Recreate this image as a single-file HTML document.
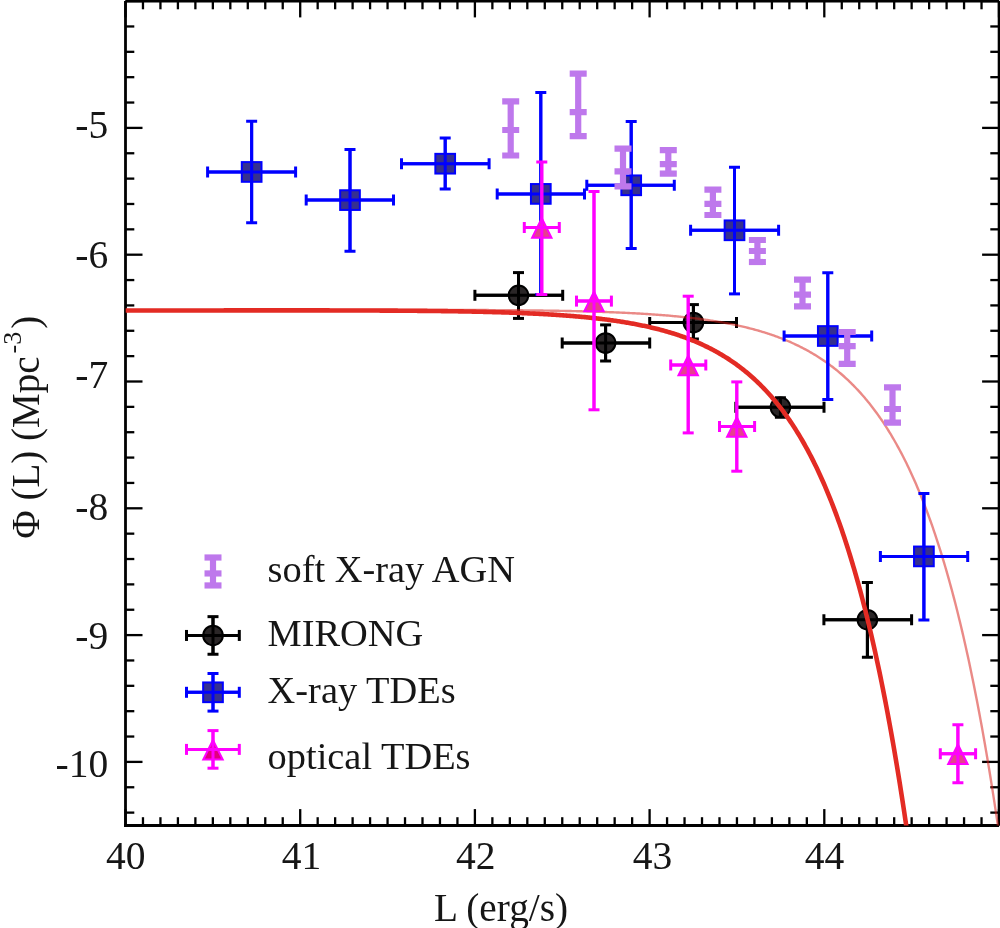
<!DOCTYPE html><html><head><meta charset="utf-8"><style>html,body{margin:0;padding:0;background:#fff;width:1000px;height:928px;overflow:hidden}svg{display:block}body{-webkit-font-smoothing:antialiased}svg{will-change:transform}text{font-family:"Liberation Serif",serif}</style></head><body>
<svg width="1000" height="928" viewBox="0 0 1000 928">
<rect width="1000" height="928" fill="#fff"/>
<defs><clipPath id="pc"><rect x="125.5" y="1.1" width="874" height="824.4"/></clipPath></defs>
<g stroke="#000" stroke-width="2.3" fill="none"><line x1="125.50" y1="825.5" x2="125.50" y2="809.1"/><line x1="125.50" y1="1.0" x2="125.50" y2="17.4"/><line x1="142.97" y1="825.5" x2="142.97" y2="817.2"/><line x1="142.97" y1="1.0" x2="142.97" y2="9.3"/><line x1="160.44" y1="825.5" x2="160.44" y2="817.2"/><line x1="160.44" y1="1.0" x2="160.44" y2="9.3"/><line x1="177.91" y1="825.5" x2="177.91" y2="817.2"/><line x1="177.91" y1="1.0" x2="177.91" y2="9.3"/><line x1="195.38" y1="825.5" x2="195.38" y2="817.2"/><line x1="195.38" y1="1.0" x2="195.38" y2="9.3"/><line x1="212.85" y1="825.5" x2="212.85" y2="817.2"/><line x1="212.85" y1="1.0" x2="212.85" y2="9.3"/><line x1="230.32" y1="825.5" x2="230.32" y2="817.2"/><line x1="230.32" y1="1.0" x2="230.32" y2="9.3"/><line x1="247.79" y1="825.5" x2="247.79" y2="817.2"/><line x1="247.79" y1="1.0" x2="247.79" y2="9.3"/><line x1="265.26" y1="825.5" x2="265.26" y2="817.2"/><line x1="265.26" y1="1.0" x2="265.26" y2="9.3"/><line x1="282.73" y1="825.5" x2="282.73" y2="817.2"/><line x1="282.73" y1="1.0" x2="282.73" y2="9.3"/><line x1="300.20" y1="825.5" x2="300.20" y2="809.1"/><line x1="300.20" y1="1.0" x2="300.20" y2="17.4"/><line x1="317.67" y1="825.5" x2="317.67" y2="817.2"/><line x1="317.67" y1="1.0" x2="317.67" y2="9.3"/><line x1="335.14" y1="825.5" x2="335.14" y2="817.2"/><line x1="335.14" y1="1.0" x2="335.14" y2="9.3"/><line x1="352.61" y1="825.5" x2="352.61" y2="817.2"/><line x1="352.61" y1="1.0" x2="352.61" y2="9.3"/><line x1="370.08" y1="825.5" x2="370.08" y2="817.2"/><line x1="370.08" y1="1.0" x2="370.08" y2="9.3"/><line x1="387.55" y1="825.5" x2="387.55" y2="817.2"/><line x1="387.55" y1="1.0" x2="387.55" y2="9.3"/><line x1="405.02" y1="825.5" x2="405.02" y2="817.2"/><line x1="405.02" y1="1.0" x2="405.02" y2="9.3"/><line x1="422.49" y1="825.5" x2="422.49" y2="817.2"/><line x1="422.49" y1="1.0" x2="422.49" y2="9.3"/><line x1="439.96" y1="825.5" x2="439.96" y2="817.2"/><line x1="439.96" y1="1.0" x2="439.96" y2="9.3"/><line x1="457.43" y1="825.5" x2="457.43" y2="817.2"/><line x1="457.43" y1="1.0" x2="457.43" y2="9.3"/><line x1="474.90" y1="825.5" x2="474.90" y2="809.1"/><line x1="474.90" y1="1.0" x2="474.90" y2="17.4"/><line x1="492.37" y1="825.5" x2="492.37" y2="817.2"/><line x1="492.37" y1="1.0" x2="492.37" y2="9.3"/><line x1="509.84" y1="825.5" x2="509.84" y2="817.2"/><line x1="509.84" y1="1.0" x2="509.84" y2="9.3"/><line x1="527.31" y1="825.5" x2="527.31" y2="817.2"/><line x1="527.31" y1="1.0" x2="527.31" y2="9.3"/><line x1="544.78" y1="825.5" x2="544.78" y2="817.2"/><line x1="544.78" y1="1.0" x2="544.78" y2="9.3"/><line x1="562.25" y1="825.5" x2="562.25" y2="817.2"/><line x1="562.25" y1="1.0" x2="562.25" y2="9.3"/><line x1="579.72" y1="825.5" x2="579.72" y2="817.2"/><line x1="579.72" y1="1.0" x2="579.72" y2="9.3"/><line x1="597.19" y1="825.5" x2="597.19" y2="817.2"/><line x1="597.19" y1="1.0" x2="597.19" y2="9.3"/><line x1="614.66" y1="825.5" x2="614.66" y2="817.2"/><line x1="614.66" y1="1.0" x2="614.66" y2="9.3"/><line x1="632.13" y1="825.5" x2="632.13" y2="817.2"/><line x1="632.13" y1="1.0" x2="632.13" y2="9.3"/><line x1="649.60" y1="825.5" x2="649.60" y2="809.1"/><line x1="649.60" y1="1.0" x2="649.60" y2="17.4"/><line x1="667.07" y1="825.5" x2="667.07" y2="817.2"/><line x1="667.07" y1="1.0" x2="667.07" y2="9.3"/><line x1="684.54" y1="825.5" x2="684.54" y2="817.2"/><line x1="684.54" y1="1.0" x2="684.54" y2="9.3"/><line x1="702.01" y1="825.5" x2="702.01" y2="817.2"/><line x1="702.01" y1="1.0" x2="702.01" y2="9.3"/><line x1="719.48" y1="825.5" x2="719.48" y2="817.2"/><line x1="719.48" y1="1.0" x2="719.48" y2="9.3"/><line x1="736.95" y1="825.5" x2="736.95" y2="817.2"/><line x1="736.95" y1="1.0" x2="736.95" y2="9.3"/><line x1="754.42" y1="825.5" x2="754.42" y2="817.2"/><line x1="754.42" y1="1.0" x2="754.42" y2="9.3"/><line x1="771.89" y1="825.5" x2="771.89" y2="817.2"/><line x1="771.89" y1="1.0" x2="771.89" y2="9.3"/><line x1="789.36" y1="825.5" x2="789.36" y2="817.2"/><line x1="789.36" y1="1.0" x2="789.36" y2="9.3"/><line x1="806.83" y1="825.5" x2="806.83" y2="817.2"/><line x1="806.83" y1="1.0" x2="806.83" y2="9.3"/><line x1="824.30" y1="825.5" x2="824.30" y2="809.1"/><line x1="824.30" y1="1.0" x2="824.30" y2="17.4"/><line x1="841.77" y1="825.5" x2="841.77" y2="817.2"/><line x1="841.77" y1="1.0" x2="841.77" y2="9.3"/><line x1="859.24" y1="825.5" x2="859.24" y2="817.2"/><line x1="859.24" y1="1.0" x2="859.24" y2="9.3"/><line x1="876.71" y1="825.5" x2="876.71" y2="817.2"/><line x1="876.71" y1="1.0" x2="876.71" y2="9.3"/><line x1="894.18" y1="825.5" x2="894.18" y2="817.2"/><line x1="894.18" y1="1.0" x2="894.18" y2="9.3"/><line x1="911.65" y1="825.5" x2="911.65" y2="817.2"/><line x1="911.65" y1="1.0" x2="911.65" y2="9.3"/><line x1="929.12" y1="825.5" x2="929.12" y2="817.2"/><line x1="929.12" y1="1.0" x2="929.12" y2="9.3"/><line x1="946.59" y1="825.5" x2="946.59" y2="817.2"/><line x1="946.59" y1="1.0" x2="946.59" y2="9.3"/><line x1="964.06" y1="825.5" x2="964.06" y2="817.2"/><line x1="964.06" y1="1.0" x2="964.06" y2="9.3"/><line x1="981.53" y1="825.5" x2="981.53" y2="817.2"/><line x1="981.53" y1="1.0" x2="981.53" y2="9.3"/><line x1="999.00" y1="825.5" x2="999.00" y2="809.1"/><line x1="999.00" y1="1.0" x2="999.00" y2="17.4"/><line x1="125.5" y1="1.10" x2="142.5" y2="1.10"/><line x1="999.1" y1="1.10" x2="982.1" y2="1.10"/><line x1="125.5" y1="26.46" x2="134.3" y2="26.46"/><line x1="999.1" y1="26.46" x2="990.3000000000001" y2="26.46"/><line x1="125.5" y1="51.82" x2="134.3" y2="51.82"/><line x1="999.1" y1="51.82" x2="990.3000000000001" y2="51.82"/><line x1="125.5" y1="77.18" x2="134.3" y2="77.18"/><line x1="999.1" y1="77.18" x2="990.3000000000001" y2="77.18"/><line x1="125.5" y1="102.54" x2="134.3" y2="102.54"/><line x1="999.1" y1="102.54" x2="990.3000000000001" y2="102.54"/><line x1="125.5" y1="127.90" x2="142.5" y2="127.90"/><line x1="999.1" y1="127.90" x2="982.1" y2="127.90"/><line x1="125.5" y1="153.26" x2="134.3" y2="153.26"/><line x1="999.1" y1="153.26" x2="990.3000000000001" y2="153.26"/><line x1="125.5" y1="178.62" x2="134.3" y2="178.62"/><line x1="999.1" y1="178.62" x2="990.3000000000001" y2="178.62"/><line x1="125.5" y1="203.98" x2="134.3" y2="203.98"/><line x1="999.1" y1="203.98" x2="990.3000000000001" y2="203.98"/><line x1="125.5" y1="229.34" x2="134.3" y2="229.34"/><line x1="999.1" y1="229.34" x2="990.3000000000001" y2="229.34"/><line x1="125.5" y1="254.70" x2="142.5" y2="254.70"/><line x1="999.1" y1="254.70" x2="982.1" y2="254.70"/><line x1="125.5" y1="280.06" x2="134.3" y2="280.06"/><line x1="999.1" y1="280.06" x2="990.3000000000001" y2="280.06"/><line x1="125.5" y1="305.42" x2="134.3" y2="305.42"/><line x1="999.1" y1="305.42" x2="990.3000000000001" y2="305.42"/><line x1="125.5" y1="330.78" x2="134.3" y2="330.78"/><line x1="999.1" y1="330.78" x2="990.3000000000001" y2="330.78"/><line x1="125.5" y1="356.14" x2="134.3" y2="356.14"/><line x1="999.1" y1="356.14" x2="990.3000000000001" y2="356.14"/><line x1="125.5" y1="381.50" x2="142.5" y2="381.50"/><line x1="999.1" y1="381.50" x2="982.1" y2="381.50"/><line x1="125.5" y1="406.86" x2="134.3" y2="406.86"/><line x1="999.1" y1="406.86" x2="990.3000000000001" y2="406.86"/><line x1="125.5" y1="432.22" x2="134.3" y2="432.22"/><line x1="999.1" y1="432.22" x2="990.3000000000001" y2="432.22"/><line x1="125.5" y1="457.58" x2="134.3" y2="457.58"/><line x1="999.1" y1="457.58" x2="990.3000000000001" y2="457.58"/><line x1="125.5" y1="482.94" x2="134.3" y2="482.94"/><line x1="999.1" y1="482.94" x2="990.3000000000001" y2="482.94"/><line x1="125.5" y1="508.30" x2="142.5" y2="508.30"/><line x1="999.1" y1="508.30" x2="982.1" y2="508.30"/><line x1="125.5" y1="533.66" x2="134.3" y2="533.66"/><line x1="999.1" y1="533.66" x2="990.3000000000001" y2="533.66"/><line x1="125.5" y1="559.02" x2="134.3" y2="559.02"/><line x1="999.1" y1="559.02" x2="990.3000000000001" y2="559.02"/><line x1="125.5" y1="584.38" x2="134.3" y2="584.38"/><line x1="999.1" y1="584.38" x2="990.3000000000001" y2="584.38"/><line x1="125.5" y1="609.74" x2="134.3" y2="609.74"/><line x1="999.1" y1="609.74" x2="990.3000000000001" y2="609.74"/><line x1="125.5" y1="635.10" x2="142.5" y2="635.10"/><line x1="999.1" y1="635.10" x2="982.1" y2="635.10"/><line x1="125.5" y1="660.46" x2="134.3" y2="660.46"/><line x1="999.1" y1="660.46" x2="990.3000000000001" y2="660.46"/><line x1="125.5" y1="685.82" x2="134.3" y2="685.82"/><line x1="999.1" y1="685.82" x2="990.3000000000001" y2="685.82"/><line x1="125.5" y1="711.18" x2="134.3" y2="711.18"/><line x1="999.1" y1="711.18" x2="990.3000000000001" y2="711.18"/><line x1="125.5" y1="736.54" x2="134.3" y2="736.54"/><line x1="999.1" y1="736.54" x2="990.3000000000001" y2="736.54"/><line x1="125.5" y1="761.90" x2="142.5" y2="761.90"/><line x1="999.1" y1="761.90" x2="982.1" y2="761.90"/><line x1="125.5" y1="787.26" x2="134.3" y2="787.26"/><line x1="999.1" y1="787.26" x2="990.3000000000001" y2="787.26"/><line x1="125.5" y1="812.62" x2="134.3" y2="812.62"/><line x1="999.1" y1="812.62" x2="990.3000000000001" y2="812.62"/></g>
<g stroke="#000" stroke-width="2.8"><line x1="125.5" y1="1.0" x2="125.5" y2="826.9"/><line x1="124.1" y1="825.5" x2="999.1" y2="825.5"/><line x1="125.5" y1="1.0" x2="999.1" y2="1.0"/><line x1="999.1" y1="1.0" x2="999.1" y2="825.5"/></g>
<g clip-path="url(#pc)">
<g stroke="#000000" stroke-width="3.0" fill="none"><line x1="474.9" y1="295.3" x2="562.7" y2="295.3"/><line x1="474.9" y1="289.8" x2="474.9" y2="300.8"/><line x1="562.7" y1="289.8" x2="562.7" y2="300.8"/><line x1="518.5" y1="272.6" x2="518.5" y2="318.4"/><line x1="513.0" y1="272.6" x2="524.0" y2="272.6"/><line x1="513.0" y1="318.4" x2="524.0" y2="318.4"/><line x1="562.2" y1="343.0" x2="649.7" y2="343.0"/><line x1="562.2" y1="337.5" x2="562.2" y2="348.5"/><line x1="649.7" y1="337.5" x2="649.7" y2="348.5"/><line x1="605.6" y1="324.9" x2="605.6" y2="361.0"/><line x1="600.1" y1="324.9" x2="611.1" y2="324.9"/><line x1="600.1" y1="361.0" x2="611.1" y2="361.0"/><line x1="649.7" y1="322.5" x2="736.5" y2="322.5"/><line x1="649.7" y1="317.0" x2="649.7" y2="328.0"/><line x1="736.5" y1="317.0" x2="736.5" y2="328.0"/><line x1="693.4" y1="304.6" x2="693.4" y2="339.0"/><line x1="687.9" y1="304.6" x2="698.9" y2="304.6"/><line x1="687.9" y1="339.0" x2="698.9" y2="339.0"/><line x1="735.8" y1="407.3" x2="824.0" y2="407.3"/><line x1="735.8" y1="401.8" x2="735.8" y2="412.8"/><line x1="824.0" y1="401.8" x2="824.0" y2="412.8"/><line x1="780.4" y1="397.8" x2="780.4" y2="417.2"/><line x1="774.9" y1="397.8" x2="785.9" y2="397.8"/><line x1="774.9" y1="417.2" x2="785.9" y2="417.2"/><line x1="823.9" y1="619.7" x2="911.6" y2="619.7"/><line x1="823.9" y1="614.2" x2="823.9" y2="625.2"/><line x1="911.6" y1="614.2" x2="911.6" y2="625.2"/><line x1="867.4" y1="582.4" x2="867.4" y2="657.2"/><line x1="861.9" y1="582.4" x2="872.9" y2="582.4"/><line x1="861.9" y1="657.2" x2="872.9" y2="657.2"/></g>
<circle cx="518.5" cy="295.3" r="9.8" fill="#2A2627" stroke="#000000" stroke-width="2"/><circle cx="605.6" cy="343.0" r="9.8" fill="#2A2627" stroke="#000000" stroke-width="2"/><circle cx="693.4" cy="322.5" r="9.8" fill="#2A2627" stroke="#000000" stroke-width="2"/><circle cx="780.4" cy="407.3" r="9.8" fill="#2A2627" stroke="#000000" stroke-width="2"/><circle cx="867.4" cy="619.7" r="9.8" fill="#2A2627" stroke="#000000" stroke-width="2"/>
<g stroke="#000000" stroke-width="3.0" fill="none"><line x1="474.9" y1="295.3" x2="562.7" y2="295.3"/><line x1="518.5" y1="272.6" x2="518.5" y2="318.4"/><line x1="562.2" y1="343.0" x2="649.7" y2="343.0"/><line x1="605.6" y1="324.9" x2="605.6" y2="361.0"/><line x1="649.7" y1="322.5" x2="736.5" y2="322.5"/><line x1="693.4" y1="304.6" x2="693.4" y2="339.0"/><line x1="735.8" y1="407.3" x2="824.0" y2="407.3"/><line x1="780.4" y1="397.8" x2="780.4" y2="417.2"/><line x1="823.9" y1="619.7" x2="911.6" y2="619.7"/><line x1="867.4" y1="582.4" x2="867.4" y2="657.2"/></g>
<polyline points="125.50,310.57 126.64,310.56 127.77,310.56 128.91,310.56 130.05,310.55 131.18,310.55 132.32,310.55 133.46,310.54 134.60,310.54 135.73,310.54 136.87,310.53 138.01,310.53 139.14,310.53 140.28,310.52 141.42,310.52 142.55,310.52 143.69,310.51 144.83,310.51 145.97,310.51 147.10,310.50 148.24,310.50 149.38,310.50 150.51,310.49 151.65,310.49 152.79,310.49 153.92,310.48 155.06,310.48 156.20,310.48 157.34,310.47 158.47,310.47 159.61,310.47 160.75,310.46 161.88,310.46 163.02,310.46 164.16,310.45 165.29,310.45 166.43,310.45 167.57,310.44 168.70,310.44 169.84,310.44 170.98,310.43 172.12,310.43 173.25,310.43 174.39,310.42 175.53,310.42 176.66,310.42 177.80,310.41 178.94,310.41 180.07,310.41 181.21,310.40 182.35,310.40 183.49,310.40 184.62,310.39 185.76,310.39 186.90,310.39 188.03,310.38 189.17,310.38 190.31,310.38 191.44,310.37 192.58,310.37 193.72,310.37 194.86,310.36 195.99,310.36 197.13,310.36 198.27,310.35 199.40,310.35 200.54,310.35 201.68,310.34 202.81,310.34 203.95,310.34 205.09,310.33 206.22,310.33 207.36,310.33 208.50,310.32 209.64,310.32 210.77,310.32 211.91,310.31 213.05,310.31 214.18,310.31 215.32,310.30 216.46,310.30 217.59,310.30 218.73,310.29 219.87,310.29 221.01,310.29 222.14,310.28 223.28,310.28 224.42,310.28 225.55,310.27 226.69,310.27 227.83,310.27 228.96,310.26 230.10,310.26 231.24,310.26 232.38,310.26 233.51,310.25 234.65,310.25 235.79,310.25 236.92,310.24 238.06,310.24 239.20,310.24 240.33,310.23 241.47,310.23 242.61,310.23 243.75,310.22 244.88,310.22 246.02,310.22 247.16,310.21 248.29,310.21 249.43,310.21 250.57,310.21 251.70,310.20 252.84,310.20 253.98,310.20 255.11,310.19 256.25,310.19 257.39,310.19 258.53,310.18 259.66,310.18 260.80,310.18 261.94,310.17 263.07,310.17 264.21,310.17 265.35,310.17 266.48,310.16 267.62,310.16 268.76,310.16 269.90,310.15 271.03,310.15 272.17,310.15 273.31,310.14 274.44,310.14 275.58,310.14 276.72,310.14 277.85,310.13 278.99,310.13 280.13,310.13 281.27,310.12 282.40,310.12 283.54,310.12 284.68,310.12 285.81,310.11 286.95,310.11 288.09,310.11 289.22,310.10 290.36,310.10 291.50,310.10 292.63,310.10 293.77,310.09 294.91,310.09 296.05,310.09 297.18,310.08 298.32,310.08 299.46,310.08 300.59,310.08 301.73,310.07 302.87,310.07 304.00,310.07 305.14,310.07 306.28,310.06 307.42,310.06 308.55,310.06 309.69,310.06 310.83,310.05 311.96,310.05 313.10,310.05 314.24,310.04 315.37,310.04 316.51,310.04 317.65,310.04 318.79,310.03 319.92,310.03 321.06,310.03 322.20,310.03 323.33,310.02 324.47,310.02 325.61,310.02 326.74,310.02 327.88,310.02 329.02,310.01 330.15,310.01 331.29,310.01 332.43,310.01 333.57,310.00 334.70,310.00 335.84,310.00 336.98,310.00 338.11,309.99 339.25,309.99 340.39,309.99 341.52,309.99 342.66,309.99 343.80,309.98 344.94,309.98 346.07,309.98 347.21,309.98 348.35,309.98 349.48,309.97 350.62,309.97 351.76,309.97 352.89,309.97 354.03,309.97 355.17,309.96 356.31,309.96 357.44,309.96 358.58,309.96 359.72,309.96 360.85,309.95 361.99,309.95 363.13,309.95 364.26,309.95 365.40,309.95 366.54,309.95 367.67,309.94 368.81,309.94 369.95,309.94 371.09,309.94 372.22,309.94 373.36,309.94 374.50,309.94 375.63,309.93 376.77,309.93 377.91,309.93 379.04,309.93 380.18,309.93 381.32,309.93 382.46,309.93 383.59,309.93 384.73,309.92 385.87,309.92 387.00,309.92 388.14,309.92 389.28,309.92 390.41,309.92 391.55,309.92 392.69,309.92 393.83,309.92 394.96,309.92 396.10,309.92 397.24,309.91 398.37,309.91 399.51,309.91 400.65,309.91 401.78,309.91 402.92,309.91 404.06,309.91 405.19,309.91 406.33,309.91 407.47,309.91 408.61,309.91 409.74,309.91 410.88,309.91 412.02,309.91 413.15,309.91 414.29,309.91 415.43,309.91 416.56,309.91 417.70,309.91 418.84,309.91 419.98,309.91 421.11,309.91 422.25,309.91 423.39,309.91 424.52,309.91 425.66,309.91 426.80,309.91 427.93,309.91 429.07,309.92 430.21,309.92 431.35,309.92 432.48,309.92 433.62,309.92 434.76,309.92 435.89,309.92 437.03,309.92 438.17,309.92 439.30,309.93 440.44,309.93 441.58,309.93 442.71,309.93 443.85,309.93 444.99,309.93 446.13,309.93 447.26,309.94 448.40,309.94 449.54,309.94 450.67,309.94 451.81,309.95 452.95,309.95 454.08,309.95 455.22,309.95 456.36,309.96 457.50,309.96 458.63,309.96 459.77,309.96 460.91,309.97 462.04,309.97 463.18,309.97 464.32,309.98 465.45,309.98 466.59,309.98 467.73,309.99 468.87,309.99 470.00,309.99 471.14,310.00 472.28,310.00 473.41,310.01 474.55,310.01 475.69,310.02 476.82,310.02 477.96,310.02 479.10,310.03 480.24,310.03 481.37,310.04 482.51,310.04 483.65,310.05 484.78,310.05 485.92,310.06 487.06,310.07 488.19,310.07 489.33,310.08 490.47,310.08 491.60,310.09 492.74,310.10 493.88,310.10 495.02,310.11 496.15,310.12 497.29,310.12 498.43,310.13 499.56,310.14 500.70,310.15 501.84,310.15 502.97,310.16 504.11,310.17 505.25,310.18 506.39,310.19 507.52,310.19 508.66,310.20 509.80,310.21 510.93,310.22 512.07,310.23 513.21,310.24 514.34,310.25 515.48,310.26 516.62,310.27 517.76,310.28 518.89,310.29 520.03,310.30 521.17,310.31 522.30,310.32 523.44,310.33 524.58,310.34 525.71,310.36 526.85,310.37 527.99,310.38 529.12,310.39 530.26,310.41 531.40,310.42 532.54,310.43 533.67,310.45 534.81,310.46 535.95,310.47 537.08,310.49 538.22,310.50 539.36,310.52 540.49,310.53 541.63,310.55 542.77,310.56 543.91,310.58 545.04,310.59 546.18,310.61 547.32,310.63 548.45,310.65 549.59,310.66 550.73,310.68 551.86,310.70 553.00,310.72 554.14,310.74 555.28,310.75 556.41,310.77 557.55,310.79 558.69,310.81 559.82,310.83 560.96,310.86 562.10,310.88 563.23,310.90 564.37,310.92 565.51,310.94 566.64,310.96 567.78,310.99 568.92,311.01 570.06,311.04 571.19,311.06 572.33,311.08 573.47,311.11 574.60,311.13 575.74,311.16 576.88,311.19 578.01,311.21 579.15,311.24 580.29,311.27 581.43,311.30 582.56,311.33 583.70,311.36 584.84,311.39 585.97,311.42 587.11,311.45 588.25,311.48 589.38,311.51 590.52,311.54 591.66,311.58 592.80,311.61 593.93,311.64 595.07,311.68 596.21,311.71 597.34,311.75 598.48,311.78 599.62,311.82 600.75,311.86 601.89,311.90 603.03,311.94 604.16,311.98 605.30,312.02 606.44,312.06 607.58,312.10 608.71,312.14 609.85,312.18 610.99,312.23 612.12,312.27 613.26,312.31 614.40,312.36 615.53,312.41 616.67,312.45 617.81,312.50 618.95,312.55 620.08,312.60 621.22,312.65 622.36,312.70 623.49,312.75 624.63,312.81 625.77,312.86 626.90,312.91 628.04,312.97 629.18,313.03 630.32,313.08 631.45,313.14 632.59,313.20 633.73,313.26 634.86,313.32 636.00,313.38 637.14,313.44 638.27,313.51 639.41,313.57 640.55,313.64 641.68,313.71 642.82,313.77 643.96,313.84 645.10,313.91 646.23,313.98 647.37,314.06 648.51,314.13 649.64,314.21 650.78,314.28 651.92,314.36 653.05,314.44 654.19,314.52 655.33,314.60 656.47,314.68 657.60,314.76 658.74,314.85 659.88,314.93 661.01,315.02 662.15,315.11 663.29,315.20 664.42,315.29 665.56,315.38 666.70,315.48 667.84,315.57 668.97,315.67 670.11,315.77 671.25,315.87 672.38,315.97 673.52,316.08 674.66,316.18 675.79,316.29 676.93,316.40 678.07,316.51 679.20,316.62 680.34,316.73 681.48,316.85 682.62,316.96 683.75,317.08 684.89,317.20 686.03,317.33 687.16,317.45 688.30,317.58 689.44,317.71 690.57,317.84 691.71,317.97 692.85,318.11 693.99,318.24 695.12,318.38 696.26,318.52 697.40,318.67 698.53,318.81 699.67,318.96 700.81,319.11 701.94,319.26 703.08,319.42 704.22,319.57 705.36,319.73 706.49,319.89 707.63,320.06 708.77,320.22 709.90,320.39 711.04,320.57 712.18,320.74 713.31,320.92 714.45,321.10 715.59,321.28 716.73,321.47 717.86,321.66 719.00,321.85 720.14,322.04 721.27,322.24 722.41,322.44 723.55,322.64 724.68,322.85 725.82,323.06 726.96,323.27 728.09,323.49 729.23,323.71 730.37,323.93 731.51,324.16 732.64,324.39 733.78,324.62 734.92,324.86 736.05,325.10 737.19,325.34 738.33,325.59 739.46,325.84 740.60,326.10 741.74,326.36 742.88,326.62 744.01,326.89 745.15,327.16 746.29,327.44 747.42,327.72 748.56,328.00 749.70,328.29 750.83,328.59 751.97,328.88 753.11,329.19 754.25,329.49 755.38,329.80 756.52,330.12 757.66,330.44 758.79,330.77 759.93,331.10 761.07,331.43 762.20,331.78 763.34,332.12 764.48,332.47 765.61,332.83 766.75,333.19 767.89,333.56 769.03,333.94 770.16,334.31 771.30,334.70 772.44,335.09 773.57,335.49 774.71,335.89 775.85,336.30 776.98,336.71 778.12,337.14 779.26,337.56 780.40,338.00 781.53,338.44 782.67,338.89 783.81,339.34 784.94,339.80 786.08,340.27 787.22,340.75 788.35,341.23 789.49,341.72 790.63,342.22 791.77,342.73 792.90,343.24 794.04,343.76 795.18,344.29 796.31,344.83 797.45,345.37 798.59,345.92 799.72,346.49 800.86,347.06 802.00,347.63 803.13,348.22 804.27,348.82 805.41,349.42 806.55,350.04 807.68,350.66 808.82,351.30 809.96,351.94 811.09,352.59 812.23,353.26 813.37,353.93 814.50,354.61 815.64,355.31 816.78,356.01 817.92,356.72 819.05,357.45 820.19,358.19 821.33,358.94 822.46,359.69 823.60,360.47 824.74,361.25 825.87,362.04 827.01,362.85 828.15,363.67 829.29,364.50 830.42,365.34 831.56,366.20 832.70,367.07 833.83,367.95 834.97,368.85 836.11,369.75 837.24,370.68 838.38,371.62 839.52,372.57 840.65,373.53 841.79,374.51 842.93,375.51 844.07,376.52 845.20,377.54 846.34,378.59 847.48,379.64 848.61,380.72 849.75,381.81 850.89,382.91 852.02,384.03 853.16,385.17 854.30,386.33 855.44,387.50 856.57,388.70 857.71,389.91 858.85,391.14 859.98,392.38 861.12,393.65 862.26,394.93 863.39,396.24 864.53,397.56 865.67,398.91 866.81,400.27 867.94,401.66 869.08,403.06 870.22,404.49 871.35,405.94 872.49,407.41 873.63,408.90 874.76,410.42 875.90,411.96 877.04,413.52 878.17,415.11 879.31,416.72 880.45,418.35 881.59,420.01 882.72,421.70 883.86,423.41 885.00,425.14 886.13,426.90 887.27,428.69 888.41,430.51 889.54,432.35 890.68,434.22 891.82,436.12 892.96,438.05 894.09,440.00 895.23,441.99 896.37,444.01 897.50,446.05 898.64,448.13 899.78,450.24 900.91,452.38 902.05,454.56 903.19,456.76 904.33,459.00 905.46,461.28 906.60,463.59 907.74,465.93 908.87,468.31 910.01,470.72 911.15,473.17 912.28,475.66 913.42,478.19 914.56,480.75 915.69,483.35 916.83,486.00 917.97,488.68 919.11,491.40 920.24,494.17 921.38,496.97 922.52,499.82 923.65,502.71 924.79,505.64 925.93,508.62 927.06,511.65 928.20,514.72 929.34,517.83 930.48,521.00 931.61,524.21 932.75,527.47 933.89,530.78 935.02,534.14 936.16,537.55 937.30,541.01 938.43,544.52 939.57,548.09 940.71,551.71 941.85,555.38 942.98,559.11 944.12,562.90 945.26,566.75 946.39,570.65 947.53,574.61 948.67,578.63 949.80,582.71 950.94,586.86 952.08,591.06 953.22,595.33 954.35,599.67 955.49,604.07 956.63,608.54 957.76,613.07 958.90,617.67 960.04,622.34 961.17,627.09 962.31,631.90 963.45,636.79 964.58,641.75 965.72,646.78 966.86,651.90 968.00,657.09 969.13,662.35 970.27,667.70 971.41,673.13 972.54,678.64 973.68,684.23 974.82,689.91 975.95,695.67 977.09,701.52 978.23,707.46 979.37,713.49 980.50,719.61 981.64,725.82 982.78,732.13 983.91,738.53 985.05,745.03 986.19,751.62 987.32,758.32 988.46,765.12 989.60,772.02 990.74,779.02 991.87,786.13 993.01,793.35 994.15,800.67 995.28,808.11 996.42,815.66 997.56,823.32 998.69,831.10 999.83,839.00 1000.97,847.01 1002.10,855.15 1003.24,863.41 1004.38,871.80 1005.52,880.31 1006.65,888.95 1007.79,897.72" fill="none" stroke="#D71F18" stroke-opacity="0.52" stroke-width="2.4"/>
<polyline points="125.50,310.56 126.64,310.56 127.77,310.56 128.91,310.56 130.05,310.55 131.18,310.55 132.32,310.55 133.46,310.55 134.60,310.55 135.73,310.54 136.87,310.54 138.01,310.54 139.14,310.54 140.28,310.54 141.42,310.54 142.55,310.53 143.69,310.53 144.83,310.53 145.97,310.53 147.10,310.53 148.24,310.52 149.38,310.52 150.51,310.52 151.65,310.52 152.79,310.52 153.92,310.52 155.06,310.51 156.20,310.51 157.34,310.51 158.47,310.51 159.61,310.51 160.75,310.51 161.88,310.50 163.02,310.50 164.16,310.50 165.29,310.50 166.43,310.50 167.57,310.50 168.70,310.49 169.84,310.49 170.98,310.49 172.12,310.49 173.25,310.49 174.39,310.49 175.53,310.48 176.66,310.48 177.80,310.48 178.94,310.48 180.07,310.48 181.21,310.48 182.35,310.48 183.49,310.47 184.62,310.47 185.76,310.47 186.90,310.47 188.03,310.47 189.17,310.47 190.31,310.46 191.44,310.46 192.58,310.46 193.72,310.46 194.86,310.46 195.99,310.46 197.13,310.46 198.27,310.45 199.40,310.45 200.54,310.45 201.68,310.45 202.81,310.45 203.95,310.45 205.09,310.45 206.22,310.44 207.36,310.44 208.50,310.44 209.64,310.44 210.77,310.44 211.91,310.44 213.05,310.44 214.18,310.44 215.32,310.43 216.46,310.43 217.59,310.43 218.73,310.43 219.87,310.43 221.01,310.43 222.14,310.43 223.28,310.43 224.42,310.42 225.55,310.42 226.69,310.42 227.83,310.42 228.96,310.42 230.10,310.42 231.24,310.42 232.38,310.42 233.51,310.42 234.65,310.42 235.79,310.41 236.92,310.41 238.06,310.41 239.20,310.41 240.33,310.41 241.47,310.41 242.61,310.41 243.75,310.41 244.88,310.41 246.02,310.41 247.16,310.41 248.29,310.40 249.43,310.40 250.57,310.40 251.70,310.40 252.84,310.40 253.98,310.40 255.11,310.40 256.25,310.40 257.39,310.40 258.53,310.40 259.66,310.40 260.80,310.40 261.94,310.40 263.07,310.40 264.21,310.40 265.35,310.40 266.48,310.40 267.62,310.39 268.76,310.39 269.90,310.39 271.03,310.39 272.17,310.39 273.31,310.39 274.44,310.39 275.58,310.39 276.72,310.39 277.85,310.39 278.99,310.39 280.13,310.39 281.27,310.39 282.40,310.39 283.54,310.39 284.68,310.39 285.81,310.39 286.95,310.39 288.09,310.39 289.22,310.39 290.36,310.39 291.50,310.39 292.63,310.39 293.77,310.39 294.91,310.39 296.05,310.39 297.18,310.39 298.32,310.39 299.46,310.40 300.59,310.40 301.73,310.40 302.87,310.40 304.00,310.40 305.14,310.40 306.28,310.40 307.42,310.40 308.55,310.40 309.69,310.40 310.83,310.40 311.96,310.40 313.10,310.40 314.24,310.41 315.37,310.41 316.51,310.41 317.65,310.41 318.79,310.41 319.92,310.41 321.06,310.41 322.20,310.41 323.33,310.42 324.47,310.42 325.61,310.42 326.74,310.42 327.88,310.42 329.02,310.42 330.15,310.43 331.29,310.43 332.43,310.43 333.57,310.43 334.70,310.43 335.84,310.43 336.98,310.44 338.11,310.44 339.25,310.44 340.39,310.44 341.52,310.45 342.66,310.45 343.80,310.45 344.94,310.45 346.07,310.46 347.21,310.46 348.35,310.46 349.48,310.47 350.62,310.47 351.76,310.47 352.89,310.47 354.03,310.48 355.17,310.48 356.31,310.48 357.44,310.49 358.58,310.49 359.72,310.49 360.85,310.50 361.99,310.50 363.13,310.51 364.26,310.51 365.40,310.51 366.54,310.52 367.67,310.52 368.81,310.53 369.95,310.53 371.09,310.54 372.22,310.54 373.36,310.55 374.50,310.55 375.63,310.55 376.77,310.56 377.91,310.57 379.04,310.57 380.18,310.58 381.32,310.58 382.46,310.59 383.59,310.59 384.73,310.60 385.87,310.60 387.00,310.61 388.14,310.62 389.28,310.62 390.41,310.63 391.55,310.64 392.69,310.64 393.83,310.65 394.96,310.66 396.10,310.66 397.24,310.67 398.37,310.68 399.51,310.69 400.65,310.69 401.78,310.70 402.92,310.71 404.06,310.72 405.19,310.73 406.33,310.73 407.47,310.74 408.61,310.75 409.74,310.76 410.88,310.77 412.02,310.78 413.15,310.79 414.29,310.80 415.43,310.81 416.56,310.82 417.70,310.83 418.84,310.84 419.98,310.85 421.11,310.86 422.25,310.87 423.39,310.88 424.52,310.89 425.66,310.91 426.80,310.92 427.93,310.93 429.07,310.94 430.21,310.95 431.35,310.97 432.48,310.98 433.62,310.99 434.76,311.01 435.89,311.02 437.03,311.03 438.17,311.05 439.30,311.06 440.44,311.07 441.58,311.09 442.71,311.10 443.85,311.12 444.99,311.14 446.13,311.15 447.26,311.17 448.40,311.18 449.54,311.20 450.67,311.22 451.81,311.23 452.95,311.25 454.08,311.27 455.22,311.29 456.36,311.31 457.50,311.32 458.63,311.34 459.77,311.36 460.91,311.38 462.04,311.40 463.18,311.42 464.32,311.44 465.45,311.46 466.59,311.48 467.73,311.51 468.87,311.53 470.00,311.55 471.14,311.57 472.28,311.60 473.41,311.62 474.55,311.64 475.69,311.67 476.82,311.69 477.96,311.72 479.10,311.74 480.24,311.77 481.37,311.80 482.51,311.82 483.65,311.85 484.78,311.88 485.92,311.91 487.06,311.93 488.19,311.96 489.33,311.99 490.47,312.02 491.60,312.05 492.74,312.08 493.88,312.11 495.02,312.15 496.15,312.18 497.29,312.21 498.43,312.25 499.56,312.28 500.70,312.31 501.84,312.35 502.97,312.39 504.11,312.42 505.25,312.46 506.39,312.50 507.52,312.53 508.66,312.57 509.80,312.61 510.93,312.65 512.07,312.69 513.21,312.73 514.34,312.77 515.48,312.82 516.62,312.86 517.76,312.90 518.89,312.95 520.03,312.99 521.17,313.04 522.30,313.09 523.44,313.13 524.58,313.18 525.71,313.23 526.85,313.28 527.99,313.33 529.12,313.38 530.26,313.43 531.40,313.49 532.54,313.54 533.67,313.59 534.81,313.65 535.95,313.71 537.08,313.76 538.22,313.82 539.36,313.88 540.49,313.94 541.63,314.00 542.77,314.06 543.91,314.13 545.04,314.19 546.18,314.25 547.32,314.32 548.45,314.39 549.59,314.45 550.73,314.52 551.86,314.59 553.00,314.66 554.14,314.74 555.28,314.81 556.41,314.88 557.55,314.96 558.69,315.04 559.82,315.11 560.96,315.19 562.10,315.27 563.23,315.35 564.37,315.44 565.51,315.52 566.64,315.61 567.78,315.69 568.92,315.78 570.06,315.87 571.19,315.96 572.33,316.05 573.47,316.15 574.60,316.24 575.74,316.34 576.88,316.44 578.01,316.53 579.15,316.64 580.29,316.74 581.43,316.84 582.56,316.95 583.70,317.06 584.84,317.16 585.97,317.28 587.11,317.39 588.25,317.50 589.38,317.62 590.52,317.74 591.66,317.85 592.80,317.98 593.93,318.10 595.07,318.22 596.21,318.35 597.34,318.48 598.48,318.61 599.62,318.74 600.75,318.88 601.89,319.02 603.03,319.16 604.16,319.30 605.30,319.44 606.44,319.59 607.58,319.73 608.71,319.88 609.85,320.04 610.99,320.19 612.12,320.35 613.26,320.51 614.40,320.67 615.53,320.83 616.67,321.00 617.81,321.17 618.95,321.34 620.08,321.52 621.22,321.69 622.36,321.87 623.49,322.06 624.63,322.24 625.77,322.43 626.90,322.62 628.04,322.82 629.18,323.01 630.32,323.21 631.45,323.42 632.59,323.62 633.73,323.83 634.86,324.05 636.00,324.26 637.14,324.48 638.27,324.70 639.41,324.93 640.55,325.16 641.68,325.39 642.82,325.63 643.96,325.87 645.10,326.11 646.23,326.36 647.37,326.61 648.51,326.87 649.64,327.13 650.78,327.39 651.92,327.66 653.05,327.93 654.19,328.20 655.33,328.48 656.47,328.76 657.60,329.05 658.74,329.34 659.88,329.64 661.01,329.94 662.15,330.25 663.29,330.56 664.42,330.87 665.56,331.19 666.70,331.52 667.84,331.85 668.97,332.18 670.11,332.52 671.25,332.87 672.38,333.22 673.52,333.57 674.66,333.93 675.79,334.30 676.93,334.67 678.07,335.05 679.20,335.43 680.34,335.82 681.48,336.22 682.62,336.62 683.75,337.03 684.89,337.44 686.03,337.86 687.16,338.28 688.30,338.72 689.44,339.16 690.57,339.60 691.71,340.05 692.85,340.51 693.99,340.98 695.12,341.45 696.26,341.93 697.40,342.42 698.53,342.92 699.67,343.42 700.81,343.93 701.94,344.45 703.08,344.97 704.22,345.51 705.36,346.05 706.49,346.60 707.63,347.16 708.77,347.72 709.90,348.30 711.04,348.88 712.18,349.48 713.31,350.08 714.45,350.69 715.59,351.31 716.73,351.94 717.86,352.58 719.00,353.23 720.14,353.89 721.27,354.56 722.41,355.24 723.55,355.93 724.68,356.62 725.82,357.34 726.96,358.06 728.09,358.79 729.23,359.53 730.37,360.29 731.51,361.05 732.64,361.83 733.78,362.62 734.92,363.42 736.05,364.23 737.19,365.06 738.33,365.90 739.46,366.75 740.60,367.61 741.74,368.49 742.88,369.38 744.01,370.28 745.15,371.20 746.29,372.13 747.42,373.07 748.56,374.03 749.70,375.01 750.83,376.00 751.97,377.00 753.11,378.02 754.25,379.05 755.38,380.10 756.52,381.17 757.66,382.25 758.79,383.35 759.93,384.46 761.07,385.59 762.20,386.74 763.34,387.91 764.48,389.09 765.61,390.29 766.75,391.51 767.89,392.75 769.03,394.01 770.16,395.29 771.30,396.58 772.44,397.90 773.57,399.23 774.71,400.59 775.85,401.96 776.98,403.36 778.12,404.78 779.26,406.21 780.40,407.67 781.53,409.16 782.67,410.66 783.81,412.19 784.94,413.74 786.08,415.32 787.22,416.91 788.35,418.54 789.49,420.18 790.63,421.86 791.77,423.55 792.90,425.28 794.04,427.02 795.18,428.80 796.31,430.60 797.45,432.43 798.59,434.29 799.72,436.17 800.86,438.09 802.00,440.03 803.13,442.00 804.27,444.00 805.41,446.03 806.55,448.10 807.68,450.19 808.82,452.32 809.96,454.47 811.09,456.66 812.23,458.89 813.37,461.14 814.50,463.43 815.64,465.76 816.78,468.12 817.92,470.52 819.05,472.95 820.19,475.42 821.33,477.93 822.46,480.47 823.60,483.05 824.74,485.67 825.87,488.34 827.01,491.04 828.15,493.78 829.29,496.56 830.42,499.39 831.56,502.26 832.70,505.17 833.83,508.13 834.97,511.13 836.11,514.18 837.24,517.27 838.38,520.41 839.52,523.59 840.65,526.83 841.79,530.11 842.93,533.44 844.07,536.83 845.20,540.26 846.34,543.75 847.48,547.29 848.61,550.88 849.75,554.53 850.89,558.23 852.02,561.99 853.16,565.80 854.30,569.67 855.44,573.60 856.57,577.59 857.71,581.64 858.85,585.76 859.98,589.93 861.12,594.17 862.26,598.47 863.39,602.83 864.53,607.26 865.67,611.76 866.81,616.33 867.94,620.96 869.08,625.67 870.22,630.45 871.35,635.29 872.49,640.22 873.63,645.21 874.76,650.28 875.90,655.43 877.04,660.66 878.17,665.96 879.31,671.35 880.45,676.82 881.59,682.36 882.72,688.00 883.86,693.72 885.00,699.52 886.13,705.41 887.27,711.39 888.41,717.46 889.54,723.63 890.68,729.88 891.82,736.23 892.96,742.68 894.09,749.22 895.23,755.87 896.37,762.61 897.50,769.46 898.64,776.40 899.78,783.46 900.91,790.62 902.05,797.88 903.19,805.26 904.33,812.75 905.46,820.35 906.60,828.07 907.74,835.90 908.87,843.86 910.01,851.93 911.15,860.12 912.28,868.44 913.42,876.88 914.56,885.45 915.69,894.15" fill="none" stroke="#E32B24" stroke-width="4.6"/>
<g stroke="#0000FF" stroke-width="3.0" fill="none"><line x1="207.6" y1="171.95" x2="295.6" y2="171.95"/><line x1="207.6" y1="166.45" x2="207.6" y2="177.45"/><line x1="295.6" y1="166.45" x2="295.6" y2="177.45"/><line x1="251.65" y1="121.3" x2="251.65" y2="222.8"/><line x1="246.15" y1="121.3" x2="257.15" y2="121.3"/><line x1="246.15" y1="222.8" x2="257.15" y2="222.8"/></g>
<rect x="241.8" y="162.1" width="19.7" height="19.7" fill="#36308F" stroke="#0000FF" stroke-width="2"/>
<g stroke="#0000FF" stroke-width="3.0"><line x1="207.6" y1="171.95" x2="295.6" y2="171.95"/><line x1="251.65" y1="121.3" x2="251.65" y2="222.8"/></g>
<g stroke="#0000FF" stroke-width="3.0" fill="none"><line x1="306.2" y1="200.1" x2="393.5" y2="200.1"/><line x1="306.2" y1="194.6" x2="306.2" y2="205.6"/><line x1="393.5" y1="194.6" x2="393.5" y2="205.6"/><line x1="350.0" y1="149.5" x2="350.0" y2="251.2"/><line x1="344.5" y1="149.5" x2="355.5" y2="149.5"/><line x1="344.5" y1="251.2" x2="355.5" y2="251.2"/></g>
<rect x="340.15" y="190.25" width="19.7" height="19.7" fill="#36308F" stroke="#0000FF" stroke-width="2"/>
<g stroke="#0000FF" stroke-width="3.0"><line x1="306.2" y1="200.1" x2="393.5" y2="200.1"/><line x1="350.0" y1="149.5" x2="350.0" y2="251.2"/></g>
<g stroke="#0000FF" stroke-width="3.0" fill="none"><line x1="401.5" y1="163.7" x2="489.1" y2="163.7"/><line x1="401.5" y1="158.2" x2="401.5" y2="169.2"/><line x1="489.1" y1="158.2" x2="489.1" y2="169.2"/><line x1="445.2" y1="138.1" x2="445.2" y2="188.9"/><line x1="439.7" y1="138.1" x2="450.7" y2="138.1"/><line x1="439.7" y1="188.9" x2="450.7" y2="188.9"/></g>
<rect x="435.34999999999997" y="153.85" width="19.7" height="19.7" fill="#36308F" stroke="#0000FF" stroke-width="2"/>
<g stroke="#0000FF" stroke-width="3.0"><line x1="401.5" y1="163.7" x2="489.1" y2="163.7"/><line x1="445.2" y1="138.1" x2="445.2" y2="188.9"/></g>
<g stroke="#0000FF" stroke-width="3.0" fill="none"><line x1="497.2" y1="193.9" x2="584.5" y2="193.9"/><line x1="497.2" y1="188.4" x2="497.2" y2="199.4"/><line x1="584.5" y1="188.4" x2="584.5" y2="199.4"/><line x1="540.8" y1="92.5" x2="540.8" y2="294.5"/><line x1="535.3" y1="92.5" x2="546.3" y2="92.5"/><line x1="535.3" y1="294.5" x2="546.3" y2="294.5"/></g>
<rect x="530.9499999999999" y="184.05" width="19.7" height="19.7" fill="#36308F" stroke="#0000FF" stroke-width="2"/>
<g stroke="#0000FF" stroke-width="3.0"><line x1="497.2" y1="193.9" x2="584.5" y2="193.9"/><line x1="540.8" y1="92.5" x2="540.8" y2="294.5"/></g>
<g stroke="#0000FF" stroke-width="3.0" fill="none"><line x1="586.8" y1="185.3" x2="674.3" y2="185.3"/><line x1="586.8" y1="179.8" x2="586.8" y2="190.8"/><line x1="674.3" y1="179.8" x2="674.3" y2="190.8"/><line x1="631.2" y1="121.5" x2="631.2" y2="248.6"/><line x1="625.7" y1="121.5" x2="636.7" y2="121.5"/><line x1="625.7" y1="248.6" x2="636.7" y2="248.6"/></g>
<rect x="621.35" y="175.45000000000002" width="19.7" height="19.7" fill="#36308F" stroke="#0000FF" stroke-width="2"/>
<g stroke="#0000FF" stroke-width="3.0"><line x1="586.8" y1="185.3" x2="674.3" y2="185.3"/><line x1="631.2" y1="121.5" x2="631.2" y2="248.6"/></g>
<g stroke="#0000FF" stroke-width="3.0" fill="none"><line x1="690.6" y1="230.3" x2="778.6" y2="230.3"/><line x1="690.6" y1="224.8" x2="690.6" y2="235.8"/><line x1="778.6" y1="224.8" x2="778.6" y2="235.8"/><line x1="734.5" y1="167.3" x2="734.5" y2="293.9"/><line x1="729.0" y1="167.3" x2="740.0" y2="167.3"/><line x1="729.0" y1="293.9" x2="740.0" y2="293.9"/></g>
<rect x="724.65" y="220.45000000000002" width="19.7" height="19.7" fill="#36308F" stroke="#0000FF" stroke-width="2"/>
<g stroke="#0000FF" stroke-width="3.0"><line x1="690.6" y1="230.3" x2="778.6" y2="230.3"/><line x1="734.5" y1="167.3" x2="734.5" y2="293.9"/></g>
<g stroke="#0000FF" stroke-width="3.0" fill="none"><line x1="784.1" y1="336.0" x2="871.7" y2="336.0"/><line x1="784.1" y1="330.5" x2="784.1" y2="341.5"/><line x1="871.7" y1="330.5" x2="871.7" y2="341.5"/><line x1="827.8" y1="272.7" x2="827.8" y2="399.5"/><line x1="822.3" y1="272.7" x2="833.3" y2="272.7"/><line x1="822.3" y1="399.5" x2="833.3" y2="399.5"/></g>
<rect x="817.9499999999999" y="326.15" width="19.7" height="19.7" fill="#36308F" stroke="#0000FF" stroke-width="2"/>
<g stroke="#0000FF" stroke-width="3.0"><line x1="784.1" y1="336.0" x2="871.7" y2="336.0"/><line x1="827.8" y1="272.7" x2="827.8" y2="399.5"/></g>
<g stroke="#0000FF" stroke-width="3.0" fill="none"><line x1="880.4" y1="556.4" x2="967.7" y2="556.4"/><line x1="880.4" y1="550.9" x2="880.4" y2="561.9"/><line x1="967.7" y1="550.9" x2="967.7" y2="561.9"/><line x1="923.9" y1="493.4" x2="923.9" y2="620.1"/><line x1="918.4" y1="493.4" x2="929.4" y2="493.4"/><line x1="918.4" y1="620.1" x2="929.4" y2="620.1"/></g>
<rect x="914.05" y="546.55" width="19.7" height="19.7" fill="#36308F" stroke="#0000FF" stroke-width="2"/>
<g stroke="#0000FF" stroke-width="3.0"><line x1="880.4" y1="556.4" x2="967.7" y2="556.4"/><line x1="923.9" y1="493.4" x2="923.9" y2="620.1"/></g>
<g stroke="#FF00FF" stroke-width="3.0" fill="none"><line x1="524.3" y1="227.6" x2="559.3" y2="227.6"/><line x1="524.3" y1="222.1" x2="524.3" y2="233.1"/><line x1="559.3" y1="222.1" x2="559.3" y2="233.1"/><line x1="541.8" y1="162.0" x2="541.8" y2="294.5"/><line x1="536.3" y1="162.0" x2="547.3" y2="162.0"/><line x1="536.3" y1="294.5" x2="547.3" y2="294.5"/></g>
<polygon points="541.8,218.29999999999998 551.5,237.79999999999998 532.0999999999999,237.79999999999998" fill="#E6408E" stroke="#FF00FF" stroke-width="2" stroke-linejoin="miter"/>
<g stroke="#FF00FF" stroke-width="3.0"><line x1="524.3" y1="227.6" x2="559.3" y2="227.6"/><line x1="541.8" y1="162.0" x2="541.8" y2="294.5"/></g>
<g stroke="#FF00FF" stroke-width="3.0" fill="none"><line x1="576.5" y1="301.1" x2="611.4" y2="301.1"/><line x1="576.5" y1="295.6" x2="576.5" y2="306.6"/><line x1="611.4" y1="295.6" x2="611.4" y2="306.6"/><line x1="594.0" y1="191.6" x2="594.0" y2="409.8"/><line x1="588.5" y1="191.6" x2="599.5" y2="191.6"/><line x1="588.5" y1="409.8" x2="599.5" y2="409.8"/></g>
<polygon points="594.0,291.8 603.7,311.3 584.3,311.3" fill="#E6408E" stroke="#FF00FF" stroke-width="2" stroke-linejoin="miter"/>
<g stroke="#FF00FF" stroke-width="3.0"><line x1="576.5" y1="301.1" x2="611.4" y2="301.1"/><line x1="594.0" y1="191.6" x2="594.0" y2="409.8"/></g>
<g stroke="#FF00FF" stroke-width="3.0" fill="none"><line x1="670.7" y1="365.0" x2="705.8" y2="365.0"/><line x1="670.7" y1="359.5" x2="670.7" y2="370.5"/><line x1="705.8" y1="359.5" x2="705.8" y2="370.5"/><line x1="688.2" y1="296.2" x2="688.2" y2="432.9"/><line x1="682.7" y1="296.2" x2="693.7" y2="296.2"/><line x1="682.7" y1="432.9" x2="693.7" y2="432.9"/></g>
<polygon points="688.2,355.7 697.9000000000001,375.2 678.5,375.2" fill="#E6408E" stroke="#FF00FF" stroke-width="2" stroke-linejoin="miter"/>
<g stroke="#FF00FF" stroke-width="3.0"><line x1="670.7" y1="365.0" x2="705.8" y2="365.0"/><line x1="688.2" y1="296.2" x2="688.2" y2="432.9"/></g>
<g stroke="#FF00FF" stroke-width="3.0" fill="none"><line x1="719.5" y1="426.5" x2="754.6" y2="426.5"/><line x1="719.5" y1="421.0" x2="719.5" y2="432.0"/><line x1="754.6" y1="421.0" x2="754.6" y2="432.0"/><line x1="736.8" y1="381.9" x2="736.8" y2="471.2"/><line x1="731.3" y1="381.9" x2="742.3" y2="381.9"/><line x1="731.3" y1="471.2" x2="742.3" y2="471.2"/></g>
<polygon points="736.8,417.2 746.5,436.7 727.0999999999999,436.7" fill="#E6408E" stroke="#FF00FF" stroke-width="2" stroke-linejoin="miter"/>
<g stroke="#FF00FF" stroke-width="3.0"><line x1="719.5" y1="426.5" x2="754.6" y2="426.5"/><line x1="736.8" y1="381.9" x2="736.8" y2="471.2"/></g>
<g stroke="#FF00FF" stroke-width="3.0" fill="none"><line x1="940.3" y1="753.8" x2="975.6" y2="753.8"/><line x1="940.3" y1="748.3" x2="940.3" y2="759.3"/><line x1="975.6" y1="748.3" x2="975.6" y2="759.3"/><line x1="957.9" y1="724.8" x2="957.9" y2="782.7"/><line x1="952.4" y1="724.8" x2="963.4" y2="724.8"/><line x1="952.4" y1="782.7" x2="963.4" y2="782.7"/></g>
<polygon points="957.9,744.5 967.6,764.0 948.1999999999999,764.0" fill="#E6408E" stroke="#FF00FF" stroke-width="2" stroke-linejoin="miter"/>
<g stroke="#FF00FF" stroke-width="3.0"><line x1="940.3" y1="753.8" x2="975.6" y2="753.8"/><line x1="957.9" y1="724.8" x2="957.9" y2="782.7"/></g>
<g stroke="#BE78EC" fill="none"><line x1="510.7" y1="101.4" x2="510.7" y2="155.5" stroke-width="6.2"/><line x1="502.2" y1="101.4" x2="519.2" y2="101.4" stroke-width="6.2"/><line x1="502.2" y1="130.0" x2="519.2" y2="130.0" stroke-width="6.2"/><line x1="502.2" y1="155.5" x2="519.2" y2="155.5" stroke-width="6.2"/><line x1="578.2" y1="73.6" x2="578.2" y2="136.2" stroke-width="6.2"/><line x1="569.7" y1="73.6" x2="586.7" y2="73.6" stroke-width="6.2"/><line x1="569.7" y1="112.1" x2="586.7" y2="112.1" stroke-width="6.2"/><line x1="569.7" y1="136.2" x2="586.7" y2="136.2" stroke-width="6.2"/><line x1="623.0" y1="148.7" x2="623.0" y2="186.4" stroke-width="6.2"/><line x1="614.5" y1="148.7" x2="631.5" y2="148.7" stroke-width="6.2"/><line x1="614.5" y1="171.3" x2="631.5" y2="171.3" stroke-width="6.2"/><line x1="614.5" y1="186.4" x2="631.5" y2="186.4" stroke-width="6.2"/><line x1="668.3" y1="150.2" x2="668.3" y2="173.6" stroke-width="6.2"/><line x1="659.8" y1="150.2" x2="676.8" y2="150.2" stroke-width="6.2"/><line x1="659.8" y1="164.2" x2="676.8" y2="164.2" stroke-width="6.2"/><line x1="659.8" y1="173.6" x2="676.8" y2="173.6" stroke-width="6.2"/><line x1="712.9" y1="189.7" x2="712.9" y2="215.0" stroke-width="6.2"/><line x1="704.4" y1="189.7" x2="721.4" y2="189.7" stroke-width="6.2"/><line x1="704.4" y1="203.9" x2="721.4" y2="203.9" stroke-width="6.2"/><line x1="704.4" y1="215.0" x2="721.4" y2="215.0" stroke-width="6.2"/><line x1="757.4" y1="240.0" x2="757.4" y2="262.0" stroke-width="6.2"/><line x1="748.9" y1="240.0" x2="765.9" y2="240.0" stroke-width="6.2"/><line x1="748.9" y1="251.0" x2="765.9" y2="251.0" stroke-width="6.2"/><line x1="748.9" y1="262.0" x2="765.9" y2="262.0" stroke-width="6.2"/><line x1="802.5" y1="279.6" x2="802.5" y2="306.4" stroke-width="6.2"/><line x1="794.0" y1="279.6" x2="811.0" y2="279.6" stroke-width="6.2"/><line x1="794.0" y1="294.7" x2="811.0" y2="294.7" stroke-width="6.2"/><line x1="794.0" y1="306.4" x2="811.0" y2="306.4" stroke-width="6.2"/><line x1="847.2" y1="332.0" x2="847.2" y2="363.9" stroke-width="6.2"/><line x1="838.7" y1="332.0" x2="855.7" y2="332.0" stroke-width="6.2"/><line x1="838.7" y1="346.2" x2="855.7" y2="346.2" stroke-width="6.2"/><line x1="838.7" y1="363.9" x2="855.7" y2="363.9" stroke-width="6.2"/><line x1="892.5" y1="387.3" x2="892.5" y2="422.7" stroke-width="6.2"/><line x1="884.0" y1="387.3" x2="901.0" y2="387.3" stroke-width="6.2"/><line x1="884.0" y1="409.0" x2="901.0" y2="409.0" stroke-width="6.2"/><line x1="884.0" y1="422.7" x2="901.0" y2="422.7" stroke-width="6.2"/></g>
</g>
<g stroke="#BE78EC" fill="none"><line x1="213.0" y1="557.5" x2="213.0" y2="585.45" stroke-width="6.2"/><line x1="204.5" y1="557.5" x2="221.5" y2="557.5" stroke-width="6.2"/><line x1="204.5" y1="573.45" x2="221.5" y2="573.45" stroke-width="6.2"/><line x1="204.5" y1="585.45" x2="221.5" y2="585.45" stroke-width="6.2"/></g>
<g stroke="#000000" stroke-width="3.0" fill="none"><line x1="186.5" y1="635.45" x2="239.3" y2="635.45"/><line x1="186.5" y1="629.95" x2="186.5" y2="640.95"/><line x1="239.3" y1="629.95" x2="239.3" y2="640.95"/><line x1="213.0" y1="616.6500000000001" x2="213.0" y2="654.25"/><line x1="207.5" y1="616.6500000000001" x2="218.5" y2="616.6500000000001"/><line x1="207.5" y1="654.25" x2="218.5" y2="654.25"/></g><circle cx="213.0" cy="635.45" r="9.8" fill="#2A2627" stroke="#000000" stroke-width="2"/><g stroke="#000000" stroke-width="3.0"><line x1="186.5" y1="635.45" x2="239.3" y2="635.45"/><line x1="213.0" y1="616.6500000000001" x2="213.0" y2="654.25"/></g>
<g stroke="#0000FF" stroke-width="3.0" fill="none"><line x1="186.5" y1="692.3" x2="239.3" y2="692.3"/><line x1="186.5" y1="686.8" x2="186.5" y2="697.8"/><line x1="239.3" y1="686.8" x2="239.3" y2="697.8"/><line x1="213.0" y1="673.5" x2="213.0" y2="711.0999999999999"/><line x1="207.5" y1="673.5" x2="218.5" y2="673.5"/><line x1="207.5" y1="711.0999999999999" x2="218.5" y2="711.0999999999999"/></g><rect x="203.15" y="682.4499999999999" width="19.7" height="19.7" fill="#36308F" stroke="#0000FF" stroke-width="2"/><g stroke="#0000FF" stroke-width="3.0"><line x1="186.5" y1="692.3" x2="239.3" y2="692.3"/><line x1="213.0" y1="673.5" x2="213.0" y2="711.0999999999999"/></g>
<g stroke="#FF00FF" stroke-width="3.0" fill="none"><line x1="186.5" y1="749.4" x2="239.3" y2="749.4"/><line x1="186.5" y1="743.9" x2="186.5" y2="754.9"/><line x1="239.3" y1="743.9" x2="239.3" y2="754.9"/><line x1="213.0" y1="730.6" x2="213.0" y2="768.1999999999999"/><line x1="207.5" y1="730.6" x2="218.5" y2="730.6"/><line x1="207.5" y1="768.1999999999999" x2="218.5" y2="768.1999999999999"/></g><polygon points="213.0,740.1 222.7,759.6 203.3,759.6" fill="#E0007C" stroke="#FF00FF" stroke-width="2" stroke-linejoin="miter"/><g stroke="#FF00FF" stroke-width="3.0"><line x1="186.5" y1="749.4" x2="239.3" y2="749.4"/><line x1="213.0" y1="730.6" x2="213.0" y2="768.1999999999999"/></g>
<g fill="#161616" font-size="38.4">
<text x="267.6" y="582.3">soft X-ray AGN</text>
<text x="267.6" y="645.7">MIRONG</text>
<text x="267.6" y="703">X-ray TDEs</text>
<text x="267.6" y="768.5">optical TDEs</text>
<text x="125.70" y="868.9" text-anchor="middle" font-size="39.5">40</text>
<text x="301.50" y="868.9" text-anchor="middle" font-size="39.5">41</text>
<text x="475.70" y="868.9" text-anchor="middle" font-size="39.5">42</text>
<text x="652.40" y="868.9" text-anchor="middle" font-size="39.5">43</text>
<text x="824.50" y="868.9" text-anchor="middle" font-size="39.5">44</text>
<text x="108.2" y="137.5" text-anchor="end" font-size="39.5">-5</text>
<text x="108.2" y="267.9" text-anchor="end" font-size="39.5">-6</text>
<text x="108.2" y="388.0" text-anchor="end" font-size="39.5">-7</text>
<text x="108.2" y="520.4" text-anchor="end" font-size="39.5">-8</text>
<text x="108.2" y="648.9" text-anchor="end" font-size="39.5">-9</text>
<text x="108.2" y="776.9" text-anchor="end" font-size="39.5">-10</text>
<text x="501" y="920.6" text-anchor="middle" font-size="39.3">L (erg/s)</text>
<g transform="translate(38.8,538.8) rotate(-90)"><text x="0" y="0" font-size="39">Φ (L) (Mpc<tspan font-size="26" dx="3" dy="-17.5">-3</tspan><tspan dx="3" dy="17.5">)</tspan></text></g>
</g>
</svg></body></html>
